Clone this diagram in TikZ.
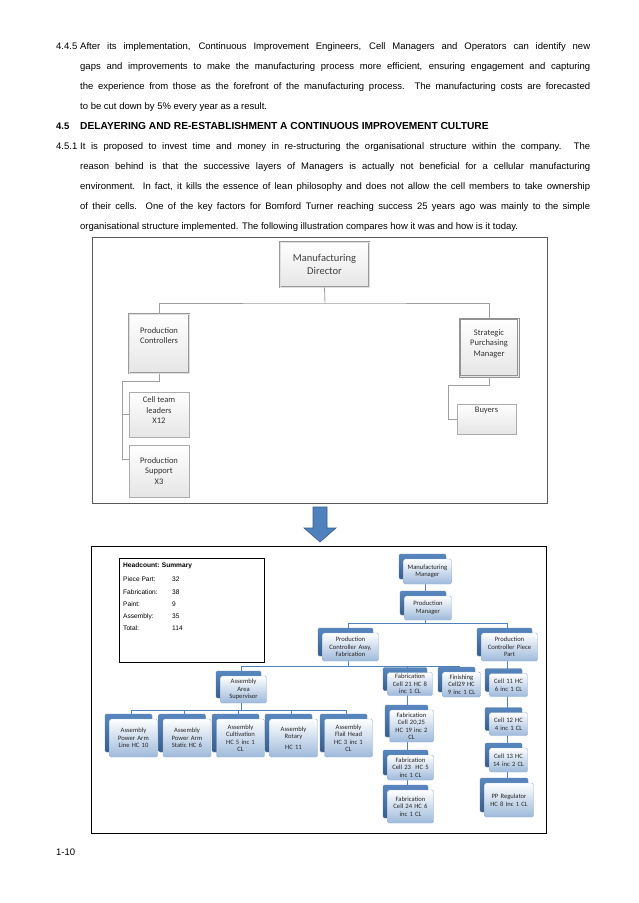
\documentclass[tikz,border=0pt]{standalone}
\usepackage{fontspec}
\setmainfont{Liberation Sans}
\newfontfamily\calfont{Carlito}
\usetikzlibrary{shadows}
\definecolor{sablue}{RGB}{79,129,189}
\definecolor{sadark}{RGB}{56,93,138}
\pgfdeclarelayer{bg}
\pgfdeclarelayer{paper}
\pgfsetlayers{paper,bg,main}
\newcommand{\sanode}[6]{%
  \node[saback, minimum width=#4pt, minimum height=#5pt] at (#2-5,#3-5) {};
  \node[safront, text width=#4pt, minimum height=#5pt] (#1) at (#2,#3) {#6};
  \coordinate (#1c) at (#2-2.5,#3-2.5);}
\begin{document}
\begin{tikzpicture}[x=1pt,y=-1pt,
  para/.style={anchor=base west,inner sep=0pt,font=\fontsize{9.5}{11}\selectfont},
  gbox/.style={draw=gray!65, top color=white, bottom color=gray!20, align=center,
     font=\calfont\fontsize{8.5}{10.5}\selectfont, text=black!80, inner sep=1pt,
     drop shadow={shadow xshift=0.8pt,shadow yshift=-0.8pt,opacity=0.25}},
  dblA/.style={draw=gray!80, line width=1pt, double=gray!25, double distance=0.8pt},
  gline/.style={draw=gray!75, line width=0.8pt},
  saback/.style={draw=sadark!80, top color=sablue!95, bottom color=sadark, rounded corners=1.5pt},
  safront/.style={draw=sablue!60, top color=white, bottom color=sablue!55, rounded corners=1.5pt,
     inner xsep=0.5pt, inner ysep=0.5pt, align=center, text=black!85,
     font=\calfont\fontsize{6.6}{7.5}\selectfont},
  saline/.style={draw=sablue, line width=0.9pt},
  hc/.style={anchor=base west, inner sep=0pt, font=\fontsize{6.6}{8}\selectfont}]
\useasboundingbox (0,0) rectangle (638,903);
\begin{pgfonlayer}{paper}
\fill[white] (0,0) rectangle (638,903);
\end{pgfonlayer}

% ---------- text ----------
\node[para] (n1) at (56,49.5) {4.4.5};
\node[para] (p1a) at (80,49.5) {\makebox[510pt][s]{After its implementation, Continuous Improvement Engineers, Cell Managers and Operators can identify new}};
\node[para] (p1b) at (80,69.5) {\makebox[510pt][s]{gaps and improvements to make the manufacturing process more efficient, ensuring engagement and capturing}};
\node[para] (p1c) at (80,89.5) {\makebox[510pt][s]{the experience from those as the forefront of the manufacturing process. The manufacturing costs are forecasted}};
\node[para] (p1d) at (80,109.5) {to be cut down by 5\% every year as a result.};
\node[para,font=\fontsize{9.5}{11}\selectfont\bfseries] (n2) at (56,129.5) {4.5};
\node[para,font=\fontsize{10.2}{11}\selectfont\bfseries] (h1) at (80,129.5) {DELAYERING AND RE-ESTABLISHMENT A CONTINUOUS IMPROVEMENT CULTURE};
\node[para] (n3) at (56,149.5) {4.5.1};
\node[para] (p2a) at (80,149.5) {\makebox[510pt][s]{It is proposed to invest time and money in re-structuring the organisational structure within the company. The}};
\node[para] (p2b) at (80,169.5) {\makebox[510pt][s]{reason behind is that the successive layers of Managers is actually not beneficial for a cellular manufacturing}};
\node[para] (p2c) at (80,189.5) {\makebox[510pt][s]{environment. In fact, it kills the essence of lean philosophy and does not allow the cell members to take ownership}};
\node[para] (p2d) at (80,209.5) {\makebox[510pt][s]{of their cells. One of the key factors for Bomford Turner reaching success 25 years ago was mainly to the simple}};
\node[para] (p2e) at (80,229.5) {organisational structure implemented. The following illustration compares how it was and how is it today.};
\node[para] (pg) at (56,855.5) {1-10};

% ---------- top chart ----------
\draw[draw=gray!70!black, line width=0.8pt] (92,237) rectangle (547,503);
\node[gbox, dblA, minimum width=89pt, minimum height=45pt,
      font=\calfont\fontsize{10.5}{12.7}\selectfont, text=black!75] (MD) at (324.5,264.5) {Manufacturing\\Director};
\node[gbox, dblA, minimum width=60pt, minimum height=59pt] (PC) at (159,343.5) {Production\\Controllers\\[5pt]};
\node[gbox, draw=gray!85, line width=0.8pt, minimum width=60pt, minimum height=59pt] (SPM) at (489,347.5) {Strategic\\Purchasing\\Manager\\[-1pt]};
\draw[draw=gray!85, line width=0.7pt] ([shift={(2.2,2.2)}]SPM.north west) rectangle ([shift={(-2.2,-2.2)}]SPM.south east);
\node[gbox, minimum width=60pt, minimum height=45pt] (CTL) at (159,414.5) {Cell team\\leaders\\X12\\[-2pt]};
\node[gbox, minimum width=60pt, minimum height=52pt] (PS) at (159,471) {Production\\Support\\X3};
\node[gbox, minimum width=59pt, minimum height=30pt] (BUY) at (486.5,419) {Buyers\\[8pt]};
\coordinate (tb1) at (325,303);
\coordinate (tb2) at (122,459);
\coordinate (tb3) at (448,385);
\draw[gline] (MD.south) -- (tb1);
\draw[gline] (PC.north) |- (tb1) -| (SPM.north);
\draw[gline] (PC.south) -- ++(0,8) -| (tb2) -- (tb2 -| PS.west);
\draw[gline] (tb2 |- CTL.west) -- (CTL.west);
\draw[gline] (SPM.south) |- (tb3) |- (BUY.west);

% ---------- arrow ----------
\draw[fill=sablue, draw=sadark, line width=0.6pt] (313,507) -- (327,507) -- (327,528) -- (336,528)
  -- (320,542) -- (304,528) -- (313,528) -- cycle;

% ---------- bottom chart ----------
\draw[black, line width=0.8pt] (91,546) rectangle (546,833);
\draw[black, line width=0.5pt] (119,558) rectangle (264,662);
\node[hc,font=\fontsize{6.6}{8}\selectfont\bfseries] (hc0) at (123,567.5) {Headcount: Summary};
\node[hc] (hc1) at (123,581.5) {Piece Part:};
\node[hc] (hc1n) at (172,581.5) {32};
\node[hc] (hc2) at (123,594.5) {Fabrication:};
\node[hc] (hc2n) at (172,594.5) {38};
\node[hc] (hc3) at (123,606.5) {Paint:};
\node[hc] (hc3n) at (172,606.5) {9};
\node[hc] (hc4) at (123,618.5) {Assembly:};
\node[hc] (hc4n) at (172,618.5) {35};
\node[hc] (hc5) at (123,630.5) {Total:};
\node[hc] (hc5n) at (172,630.5) {114};

\sanode{MM}{427.5}{571.5}{47}{25}{Manufacturing\\Manager}
\sanode{PM}{428}{608}{46}{24}{Production\\Manager}
\sanode{PCA}{350.5}{647}{55}{28}{Production\\Controller Assy,\\Fabrication}
\sanode{PCP}{509.5}{647}{55}{28}{Production\\Controller Piece\\Part}
\sanode{AAS}{243.5}{689.5}{45}{27}{Assembly\\Area\\Supervisor}
\sanode{AA}{133.5}{738}{47}{38}{Assembly\\Power Arm\\Line HC 10}
\sanode{AB}{187}{738}{47}{38}{Assembly\\Power Arm\\Static HC 6}
\sanode{AC}{240.5}{738}{47}{38}{Assembly\\Cultivation\\HC 5 inc 1\\CL}
\sanode{AD}{293.5}{738}{47}{38}{Assembly\\Rotary\\[3pt]HC 11}
\sanode{AE}{348.5}{738}{47}{38}{Assembly\\Flail Head\\HC 3 inc 1\\CL}
\sanode{FA}{410}{684}{44}{23}{Fabrication\\Cell 21 HC 8\\inc 1 CL}
\sanode{FN}{461.5}{684.5}{37}{25}{Finishing\\Cell29 HC\\9 inc 1 CL}
\sanode{CA}{508.5}{685}{37}{23}{Cell 11 HC\\6 inc 1 CL}
\sanode{FB}{411.5}{726}{43}{32}{Fabrication\\Cell 20,25\\HC 19 inc 2\\CL}
\sanode{CB}{508.5}{724}{37}{23}{Cell 12 HC\\4 inc 1 CL}
\sanode{FC}{410.5}{767.5}{45}{25}{Fabrication\\Cell 23~ HC 5\\inc 1 CL}
\sanode{CC}{508.5}{760}{37}{24}{Cell 13 HC\\14 inc 2 CL}
\sanode{FD}{410.5}{806.5}{45}{33}{Fabrication\\Cell 24 HC 6\\inc 1 CL}
\sanode{PPR}{509}{800}{48}{34}{PP Regulator\\HC 8 Inc 1 CL}

\begin{pgfonlayer}{bg}
\coordinate (bar1) at (0,623);
\coordinate (bar2) at (0,666);
\coordinate (bar3) at (0,710);
\draw[saline] (MMc) -- (MMc |- PMc);
\draw[saline] (PMc) -- (PMc |- bar1);
\draw[saline] (PCAc) |- (bar1 -| PCPc) -- (PCPc);
\draw[saline] (PCAc) -- (PCAc |- bar2);
\draw[saline] (AASc) |- (bar2 -| FNc) -- (FNc);
\draw[saline] (FAc) -- (FAc |- bar2);
\draw[saline] (AASc) -- (AASc |- bar3);
\draw[saline] (AAc) |- (bar3 -| AEc) -- (AEc);
\draw[saline] (ABc) -- (ABc |- bar3);
\draw[saline] (ACc) -- (ACc |- bar3);
\draw[saline] (ADc) -- (ADc |- bar3);
\draw[saline] (FAc) -- (FAc |- FDc);
\draw[saline] (PCPc) -- (PCPc |- PPRc);
\end{pgfonlayer}
\end{tikzpicture}
\end{document}
